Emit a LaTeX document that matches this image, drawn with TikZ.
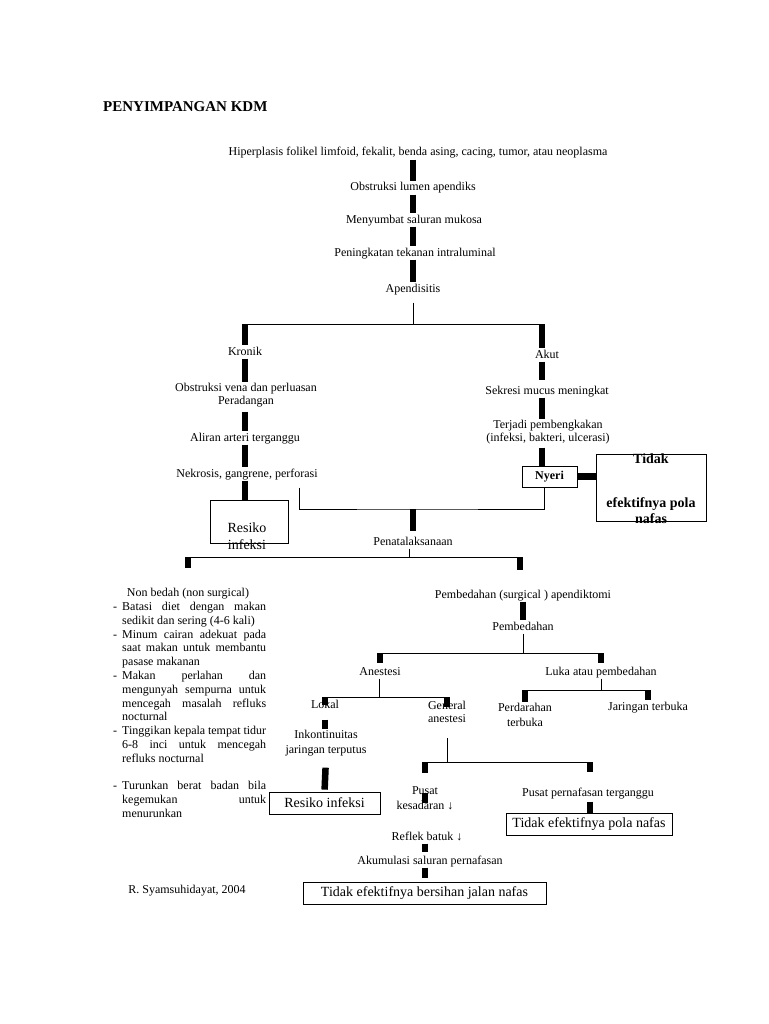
\documentclass[tikz,border=0pt]{standalone}
\usepackage{fontspec}
\setmainfont{Liberation Serif}

\newcommand{\jline}[1]{\makebox[144pt][s]{#1}}
\newcommand{\eline}[1]{\makebox[144pt][l]{#1}}
\newcommand{\tanda}{\makebox[9pt][l]{-}}
\newcommand{\sisip}{\hspace*{9pt}}

\begin{document}
\begin{tikzpicture}
      [
        x = 1pt, y = -1pt,
        font = \fontsize{12}{13}\selectfont,
        FlowText/.style={inner sep=1pt, align=center},
        OneLine/.style={FlowText, text height=8.5pt, text depth=2.5pt},
        BoxText/.style={draw, line width=0.8pt, inner sep=0pt, minimum height=22pt, font=\fontsize{14}{16}\selectfont},
        HeadBar/.style={line width=6.5pt},
        Link/.style={line width=0.8pt},
      ]

      \fill[white] (0,0) rectangle (768,1024);
      \useasboundingbox (0,0) rectangle (768,1024);

      \node [anchor=west, inner sep=0pt, font=\fontsize{15}{17}\selectfont\bfseries] (judul) at (103,107) {PENYIMPANGAN KDM};

      % batang utama
      \node [OneLine] (hiper) at (418,153) {Hiperplasis folikel limfoid, fekalit, benda asing, cacing, tumor, atau neoplasma};
      \node [OneLine] (obstruksi) at (413,188) {Obstruksi lumen apendiks};
      \node [OneLine] (mukosa) at (414,220) {Menyumbat saluran mukosa};
      \node [OneLine] (tekanan) at (415,253) {Peningkatan tekanan intraluminal};
      \node [OneLine] (apendisitis) at (413,289) {Apendisitis};

      \draw[HeadBar] (obstruksi.north |- hiper.south) -- (obstruksi.north);
      \draw[HeadBar] (obstruksi.south) -- (obstruksi.south |- mukosa.north);
      \draw[HeadBar] (obstruksi.south |- mukosa.south) -- (obstruksi.south |- tekanan.north);
      \draw[HeadBar] (obstruksi.south |- tekanan.south) -- (obstruksi.south |- apendisitis.north);

      \coordinate (pisah) at (413,324);
      \coordinate (kronikIn) at (245,324);
      \coordinate (akutIn) at (542,324);
      \draw[Link, shorten <=7pt] (apendisitis.south) -- (pisah);
      \draw[Link] (kronikIn) -- (akutIn);

      % kronik
      \node [OneLine] (kronik) at (245,352) {Kronik};
      \node [FlowText] (vena) at (246,395.5) {Obstruksi vena dan perluasan\\Peradangan};
      \node [OneLine] (arteri) at (245,438) {Aliran arteri terganggu};
      \node [OneLine] (nekrosis) at (247,474) {Nekrosis, gangrene, perforasi};
      \node [draw, line width=0.8pt, minimum width=78pt, minimum height=43pt] (resiko1) at (249,521.5) {};
      \node [anchor=north, inner sep=0pt, align=center, font=\fontsize{14}{17}\selectfont] (resiko1txt) at (247,523) {Resiko\\infeksi};

      \draw[HeadBar] (kronikIn) -- (kronikIn |- kronik.north);
      \draw[HeadBar] (kronikIn |- kronik.south) -- (kronikIn |- vena.north);
      \draw[HeadBar, shorten <=3pt] (kronikIn |- vena.south) -- (kronikIn |- arteri.north);
      \draw[HeadBar] (kronikIn |- arteri.south) -- (kronikIn |- nekrosis.north);
      \draw[HeadBar] (kronikIn |- nekrosis.south) -- (kronikIn |- resiko1.north);

      % akut
      \node [OneLine] (akut) at (547,355) {Akut};
      \node [OneLine] (sekresi) at (547,391) {Sekresi mucus meningkat};
      \node [FlowText] (bengkak) at (548,432.5) {Terjadi pembengkakan\\(infeksi, bakteri, ulcerasi)};
      \node [draw, line width=0.8pt, minimum width=55pt, minimum height=21pt, font=\fontsize{12}{13}\selectfont\bfseries] (nyeri) at (549.5,476.5) {Nyeri};
      \node [draw, line width=0.8pt, minimum width=110pt, minimum height=67pt] (pola1) at (651,487.5) {};
      \node [anchor=north, inner sep=0pt, align=center, font=\fontsize{14}{16}\selectfont\bfseries] (pola1txt) at (651,454) {Tidak\\[28pt]efektifnya pola\\nafas};

      \draw[HeadBar] (akutIn) -- (akutIn |- akut.north);
      \draw[HeadBar, shorten >=4pt] (akutIn |- akut.south) -- (akutIn |- sekresi.north);
      \draw[HeadBar] (akutIn |- sekresi.south) -- (akutIn |- bengkak.north);
      \draw[HeadBar, shorten <=2pt] (akutIn |- bengkak.south) -- (akutIn |- nyeri.north);
      \draw[HeadBar] (nyeri.east) -- (nyeri.east -| pola1.west);

      % penatalaksanaan
      \coordinate (gabung) at (413,509);
      \draw[Link] ([xshift=52pt,yshift=-7pt]nekrosis.south) |- (gabung) -| ([xshift=-5pt]nyeri.south);
      \node [OneLine] (penata) at (413,542) {Penatalaksanaan};
      \draw[HeadBar, shorten >=4pt] (gabung) -- (penata.north);

      \coordinate (bagi) at (409,557);
      \coordinate (nonIn) at (188,557);
      \coordinate (bedahIn) at (520,557);
      \draw[Link] (penata.south -| bagi) -- (bagi);
      \draw[Link] ([xshift=-3pt]nonIn) -- ([xshift=2pt]bedahIn);

      % non bedah
      \node [OneLine] (nonbedah) at (188,593) {Non bedah (non surgical)};
      \draw[HeadBar, shorten >=18.5pt] (nonIn) -- (nonIn |- nonbedah.north);
      \node [anchor=north west, inner sep=0pt, align=left, font=\fontsize{12}{13.8}\selectfont] (nbList) at (113,602) {%
        \tanda\jline{Batasi diet dengan makan}\\
        \sisip\eline{sedikit dan sering (4-6 kali)}\\
        \tanda\jline{Minum cairan adekuat pada}\\
        \sisip\jline{saat makan untuk membantu}\\
        \sisip\eline{pasase makanan}\\
        \tanda\jline{Makan perlahan dan}\\
        \sisip\jline{mengunyah sempurna untuk}\\
        \sisip\jline{mencegah masalah refluks}\\
        \sisip\eline{nocturnal}\\
        \tanda\jline{Tinggikan kepala tempat tidur}\\
        \sisip\jline{6-8 inci untuk mencegah}\\
        \sisip\eline{refluks nocturnal}\\[13.8pt]
        \tanda\jline{Turunkan berat badan bila}\\
        \sisip\jline{kegemukan untuk}\\
        \sisip\eline{menurunkan}};

      % pembedahan
      \node [OneLine] (surgical) at (523,595) {Pembedahan (surgical ) apendiktomi};
      \node [OneLine] (pembedahan) at (523,627) {Pembedahan};
      \draw[HeadBar, shorten >=18.5pt] (bedahIn) -- (bedahIn |- surgical.north);
      \draw[HeadBar] (surgical.south) -- (pembedahan.north);

      \coordinate (bedahSplit) at (523,653);
      \node [OneLine] (anestesi) at (380,672) {Anestesi};
      \node [OneLine] (luka) at (601,672) {Luka atau pembedahan};
      \draw[Link] (pembedahan.south) -- (bedahSplit);
      \draw[Link] (anestesi.north |- bedahSplit) -- (luka.north |- bedahSplit);
      \draw[HeadBar, shorten >=2.5pt] (anestesi.north |- bedahSplit) -- (anestesi.north);
      \draw[HeadBar, shorten >=2.5pt] (luka.north |- bedahSplit) -- (luka.north);

      \coordinate (anesSplit) at (379,697);
      \node [OneLine] (lokal) at (325,705) {Lokal};
      \node [FlowText] (general) at (447,711.5) {General\\anestesi};
      \draw[Link] (anestesi.south -| anesSplit) -- (anesSplit);
      \draw[Link] (lokal |- anesSplit) -- (general |- anesSplit);
      \draw[HeadBar] (lokal |- anesSplit) -- (lokal.center);
      \draw[HeadBar, shorten >=4.5pt] (general |- anesSplit) -- (general.center);

      \coordinate (lukaSplit) at (601,690);
      \node [FlowText] (perdarahan) at (525,714.5) {Perdarahan\\[2pt]terbuka};
      \node [OneLine] (jaringan) at (648,707) {Jaringan terbuka};
      \draw[Link] (luka.south) -- (lukaSplit);
      \draw[Link] (perdarahan.north |- lukaSplit) -- (jaringan.north |- lukaSplit);
      \draw[HeadBar] (perdarahan.north |- lukaSplit) -- (perdarahan.north);
      \draw[HeadBar] (jaringan.north |- lukaSplit) -- (jaringan.north);

      % lokal
      \node [FlowText] (inkon) at (326,743.5) {Inkontinuitas\\[2pt]jaringan terputus};
      \node [BoxText, minimum width=111pt] (resiko2) at (324.5,803) {Resiko infeksi};
      \draw[HeadBar, shorten <=8pt] (lokal.south) -- (lokal.south |- inkon.north);
      \draw[HeadBar, shorten <=10pt, shorten >=2pt] (inkon.south) -- (resiko2.north);

      % general
      \coordinate (pusatIn) at (425,762);
      \coordinate (nafasIn) at (590,762);
      \node [FlowText] (pusat) at (425,798.5) {Pusat\\[2pt]kesadaran ↓};
      \node [OneLine] (pernafasan) at (588,793) {Pusat pernafasan terganggu};
      \node [BoxText, minimum width=166pt] (pola2) at (589,824) {Tidak efektifnya pola nafas};
      \draw[Link, shorten <=15pt] (general.south) -- (general.south |- pusatIn);
      \draw[Link] (pusatIn) -- (nafasIn);
      \draw[HeadBar, shorten >=12.5pt] (pusatIn) -- (pusat.north);
      \draw[HeadBar, shorten >=14pt] (nafasIn) -- (nafasIn |- pernafasan.north);
      \draw[HeadBar, shorten <=2pt] (nafasIn |- pernafasan.south) -- (nafasIn |- pola2.north);

      \node [OneLine] (reflek) at (427,837) {Reflek batuk ↓};
      \node [OneLine] (akumulasi) at (430,861) {Akumulasi saluran pernafasan};
      \node [BoxText, minimum width=243pt] (bersihan) at (424.5,893) {Tidak efektifnya bersihan jalan nafas};
      \draw[HeadBar, shorten <=7.5pt, shorten >=27.5pt] (pusat.north) -- (pusat.north |- reflek.north);
      \draw[HeadBar, shorten >=2pt] (pusatIn |- reflek.south) -- (pusatIn |- akumulasi.north);
      \draw[HeadBar, shorten >=4pt] (pusatIn |- akumulasi.south) -- (pusatIn |- bersihan.north);

      \node [OneLine] (sumber) at (187,890) {R. Syamsuhidayat, 2004};
\end{tikzpicture}
\end{document}
